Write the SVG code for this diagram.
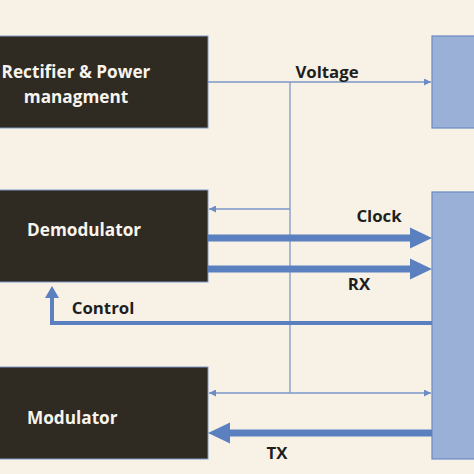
<svg xmlns="http://www.w3.org/2000/svg" width="474" height="474" viewBox="0 0 474 474">
<style>
.blk{fill:#2f2a22;stroke:#7f97c4;stroke-width:1}
.blu{fill:#9bb0d6;stroke:#6c8cc6;stroke-width:1.2}
.wt{fill:#f7f4ee;font-family:"Open Sans","Liberation Sans",sans-serif;font-weight:bold;font-size:17.2px}
.lb{fill:#1e1e1e;font-family:"Open Sans","Liberation Sans",sans-serif;font-weight:bold;font-size:16.8px}
.thin{stroke:#7b98c9;stroke-width:1.3;fill:none}
.thick{stroke:#5b80c0;stroke-width:7;fill:none}
.mid{stroke:#5b80c0;stroke-width:4;fill:none}
.ah{fill:#5b80c0}
</style>
<defs>
<marker id="sa" viewBox="0 0 10 10" refX="10" refY="5" markerWidth="7" markerHeight="7" markerUnits="userSpaceOnUse" orient="auto-start-reverse">
<path d="M0,0 L10,5 L0,10 Z" fill="#6c8cc6"/>
</marker>
</defs>
<rect width="474" height="474" fill="#f8f2e6"/>
<g id="rectifier">
<rect class="blk" x="-1" y="36" width="209" height="92"/>
<text class="wt" x="76" y="78" text-anchor="middle">Rectifier &amp; Power</text>
<text class="wt" x="76" y="103" text-anchor="middle">managment</text>
</g>
<g id="demodulator">
<rect class="blk" x="-1" y="190" width="209" height="92"/>
<text class="wt" x="27" y="236">Demodulator</text>
</g>
<g id="modulator">
<rect class="blk" x="-1" y="367" width="209" height="92"/>
<text class="wt" x="27" y="424">Modulator</text>
</g>
<g id="block-top-right">
<rect class="blu" x="432" y="36" width="46" height="92"/>
</g>
<g id="block-bottom-right">
<rect class="blu" x="432" y="192" width="46" height="267"/>
</g>
<g id="connectors">
<line class="thin" x1="208" y1="82" x2="431" y2="82" marker-end="url(#sa)"/>
<line class="thin" x1="290" y1="82" x2="290" y2="393"/>
<line class="thin" x1="290" y1="209" x2="209" y2="209" marker-end="url(#sa)"/>
<line class="thin" x1="209" y1="393" x2="431" y2="393" marker-start="url(#sa)" marker-end="url(#sa)"/>
<line class="thick" x1="208" y1="238" x2="412" y2="238"/>
<path class="ah" d="M410,227.5 L432,238 L410,248.5 Z"/>
<line class="thick" x1="208" y1="269" x2="412" y2="269"/>
<path class="ah" d="M410,258.5 L432,269 L410,279.5 Z"/>
<path class="mid" d="M432,323 L52,323 L52,296"/>
<path class="ah" d="M45,298 L52,286 L59,298 Z"/>
<line class="thick" x1="432" y1="433" x2="228" y2="433"/>
<path class="ah" d="M230,422.5 L208,433 L230,443.5 Z"/>
</g>
<text class="lb" x="327" y="78" text-anchor="middle">Voltage</text>
<text class="lb" x="379" y="222" text-anchor="middle">Clock</text>
<text class="lb" x="359" y="290" text-anchor="middle">RX</text>
<text class="lb" x="103" y="314" text-anchor="middle">Control</text>
<text class="lb" x="277" y="459" text-anchor="middle">TX</text>
</svg>
